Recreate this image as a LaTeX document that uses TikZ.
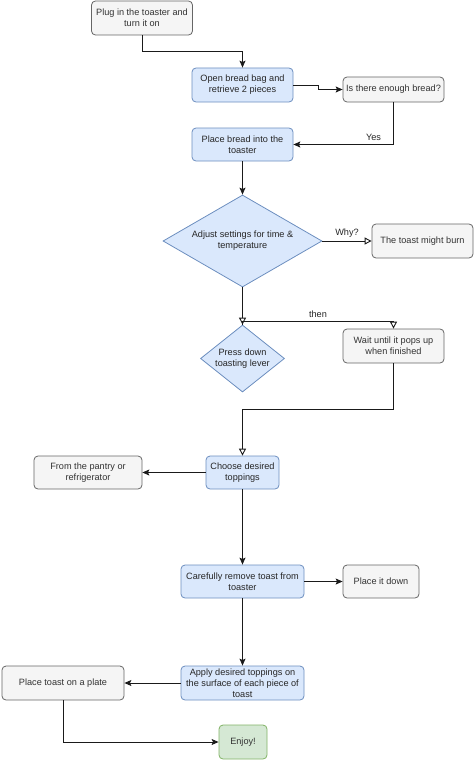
\documentclass[tikz,border=0pt]{standalone}
\usepackage{fontspec}
\setmainfont{Liberation Sans}
\usetikzlibrary{arrows.meta,shapes.geometric,positioning}
\definecolor{gfill}{HTML}{F5F5F5}
\definecolor{gline}{HTML}{666666}
\definecolor{gtext}{HTML}{333333}
\definecolor{bfill}{HTML}{DAE8FC}
\definecolor{bline}{HTML}{6C8EBF}
\definecolor{gnfill}{HTML}{D5E8D4}
\definecolor{gnline}{HTML}{82B366}
\definecolor{edgec}{HTML}{1A1A1A}
\begin{document}
\begin{tikzpicture}[x=1bp,y=-1bp,
  txt/.style={font=\fontsize{9.2}{11}\selectfont, align=center},
  box/.style={txt, rectangle, rounded corners=4bp, draw, line width=0.8bp, inner sep=0pt},
  greybox/.style={box, fill=gfill, draw=gline, text=gtext},
  bluebox/.style={box, fill=bfill, draw=bline, text=black!85},
  greenbox/.style={box, fill=gnfill, draw=gnline, text=gtext},
  dia/.style={diamond, draw=bline, fill=bfill, line width=0.8bp, inner sep=0pt},
  arr/.style={draw=edgec, line width=0.9bp, -{Stealth[length=7bp,width=6bp,inset=1.5bp]}},
  oarr/.style={draw=edgec, line width=0.9bp, -{Triangle[open,length=7bp,width=7bp]}},
  lbl/.style={txt, text=black!85}
]
\useasboundingbox (0,0) rectangle (474,760);

\node[greybox, minimum width=101bp, minimum height=34bp] (plug) at (142,18) {Plug in the toaster and\\turn it on};
\node[bluebox, minimum width=101bp, minimum height=34bp] (open) at (242.5,85) {Open bread bag and\\retrieve 2 pieces};
\node[greybox, minimum width=101bp, minimum height=25bp] (enough) at (393.5,89.5) {Is there enough bread?};
\node[bluebox, minimum width=101bp, minimum height=33bp] (place) at (242.5,144.5) {Place bread into the\\toaster};
\node[dia, minimum width=159bp, minimum height=92bp, label={[txt, text=black!85]center:Adjust settings for time \&\\temperature}] (adj) at (242.5,241) {};
\node[greybox, minimum width=101bp, minimum height=34bp] (burn) at (422.5,241) {The toast might burn};
\node[dia, minimum width=84bp, minimum height=67bp, label={[txt, text=black!85]center:Press down\\toasting lever}] (pd) at (242.5,358.5) {};
\node[greybox, minimum width=101bp, minimum height=34bp] (wait) at (393.5,346) {Wait until it pops up\\when finished};
\node[bluebox, minimum width=73bp, minimum height=33bp] (choose) at (242.5,472.5) {Choose desired\\toppings};
\node[greybox, minimum width=108bp, minimum height=33bp] (pantry) at (88,472.5) {From the pantry or\\refrigerator};
\node[bluebox, minimum width=123bp, minimum height=33bp] (careful) at (242.5,581.5) {Carefully remove toast from\\toaster};
\node[greybox, minimum width=76bp, minimum height=33bp] (down) at (381,581.5) {Place it down};
\node[bluebox, minimum width=123bp, minimum height=34bp] (apply) at (242.5,683) {Apply desired toppings on\\the surface of each piece of\\toast};
\node[greybox, minimum width=122bp, minimum height=34bp] (plate) at (63,683) {Place toast on a plate};
\node[greenbox, minimum width=48bp, minimum height=34bp] (enjoy) at (243,742) {Enjoy!};

\coordinate (c1) at (142,51);
\coordinate (j1) at (318,85);
\coordinate (j2) at (318,89.5);
\coordinate (t1) at (242.5,321);
\coordinate (w1) at (393.5,409);

\draw[arr] (plug.south) -- (c1) -| (open.north);
\draw[arr] (open.east) -- (j1) -- (j2) -- (enough.west);
\draw[arr] (enough.south) |- node[lbl, pos=0.6, above] {Yes} (place.east);
\draw[arr] (place.south) -- (adj.north);
\draw[oarr] (adj.east) -- node[lbl, above] {Why?} (burn.west);
\draw[oarr] (adj.south) -- (pd.north);
\draw[oarr] (pd.north) -- (t1) -| node[lbl, pos=0.25, above] {then} (wait.north);
\draw[oarr] (wait.south) -- (w1) -| (choose.north);
\draw[arr] (choose.west) -- (pantry.east);
\draw[arr] (choose.south) -- (careful.north);
\draw[arr] (careful.east) -- (down.west);
\draw[arr] (careful.south) -- (apply.north);
\draw[arr] (apply.west) -- (plate.east);
\draw[arr] (plate.south) |- (enjoy.west);
\end{tikzpicture}
\end{document}
